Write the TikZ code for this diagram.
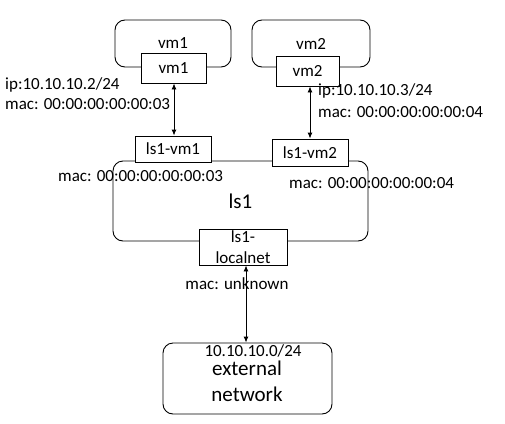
\documentclass[tikz,border=0pt]{standalone}
\usepackage{fontspec}
\setmainfont{Carlito}
\usetikzlibrary{arrows.meta}
\begin{document}
\begin{tikzpicture}[x=1pt,y=1pt,
  lbl/.style={font=\fontsize{17}{20}\selectfont, inner sep=0pt},
  big/.style={font=\fontsize{21}{25}\selectfont},
  outerbox/.style={draw, rounded corners=10pt, line width=0.9pt, inner sep=0pt},
  portbox/.style={draw, fill=white, line width=0.9pt, inner sep=0pt, font=\fontsize{17}{20}\selectfont},
  arr/.style={{Latex[length=6pt,width=5pt]}-{Latex[length=6pt,width=5pt]}, line width=0.9pt}]
\useasboundingbox (0,0) rectangle (505,-423);
% outer boxes
\node[outerbox, minimum width=116, minimum height=47, font=\fontsize{17}{20}\selectfont] (vm1out) at (173,-43.5) {vm1};
\node[outerbox, minimum width=118, minimum height=47, font=\fontsize{17}{20}\selectfont] (vm2out) at (311,-43.5) {vm2};
\node[outerbox, minimum width=255, minimum height=80, big] (ls1) at (240.5,-201) {\raisebox{-3pt}{ls1}};
\node[outerbox, minimum width=169, minimum height=71] (ext) at (247.5,-378.5) {};
% ports
\node[portbox, minimum width=65, minimum height=30] (vm1) at (173.5,-68) {vm1};
\node[portbox, minimum width=63, minimum height=30] (vm2) at (307.5,-71) {vm2};
\node[portbox, minimum width=76, minimum height=26] (ls1vm1) at (173,-149) {ls1-vm1};
\node[portbox, minimum width=76, minimum height=27] (ls1vm2) at (310,-152.5) {ls1-vm2};
\node[portbox, minimum width=88, minimum height=36, align=center, font=\fontsize{17}{21}\selectfont] (localnet) at (243,-247) {ls1-\\localnet};
% texts in external network
\node[lbl] (subnet) at (253,-351) {10.10.10.0/24};
\node[big, align=center, font=\fontsize{21}{26}\selectfont] (extlbl) at (247,-381) {external\\network};
% arrows
\draw[arr] ([xshift=0.5pt]vm1.south) -- ([xshift=0.5pt]vm1.south |- ls1vm1.north);
\draw[arr] ([xshift=2.5pt]vm2.south) -- ([xshift=2.5pt]vm2.south |- ls1vm2.north);
\draw[arr] ([xshift=3pt]localnet.south) -- ([xshift=3pt]localnet.south |- ext.north);
% labels
\node[lbl, anchor=west] (ip1) at (5,-85) {ip:10.10.10.2/24};
\node[lbl, anchor=west] (mac1) at (5,-104) {mac: 00:00:00:00:00:03};
\node[lbl, anchor=west] (mac1b) at (58,-176) {mac: 00:00:00:00:00:03};
\node[lbl, anchor=west] (ip2) at (318,-91) {ip:10.10.10.3/24};
\node[lbl, anchor=west] (mac2) at (318,-112) {mac: 00:00:00:00:00:04};
\node[lbl, anchor=west] (mac2b) at (289,-183) {mac: 00:00:00:00:00:04};
\node[lbl] (macu) at (237,-284) {mac: unknown};
\end{tikzpicture}
\end{document}
